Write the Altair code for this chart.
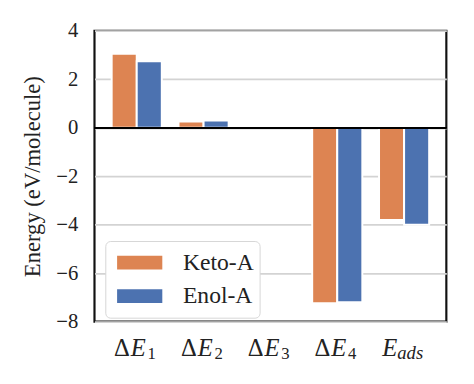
import altair as alt
import pandas as pd

categories = ["dE1", "dE2", "dE3", "dE4", "Eads"]
label_prefix = ["Δ", "Δ", "Δ", "Δ", ""]
label_main = ["E", "E", "E", "E", "E"]
label_sub = ["1", "2", "3", "4", "ads"]

series = ["Keto-A", "Enol-A"]
keto = [3.05, 0.25, 0.0, -7.24, -3.81]
enol = [2.74, 0.30, 0.0, -7.20, -4.00]
colors = ["#DD8452", "#4C72B0"]
y_ticks = [-8, -6, -4, -2, 0, 2, 4]

FONT = "Liberation Serif"
W, H = 358, 296

rows = []
for i, c in enumerate(categories):
    rows.append({"category": c, "series": series[0], "value": keto[i]})
    rows.append({"category": c, "series": series[1], "value": enol[i]})
df = pd.DataFrame(rows)

lab_df = pd.DataFrame({"category": categories, "prefix": label_prefix,
                       "main": label_main, "sub": label_sub})

xenc = alt.X("category:N", sort=categories, axis=None,
             scale=alt.Scale(paddingInner=0.25, paddingOuter=0.257))

bars = alt.Chart(df).mark_bar(stroke="white", strokeWidth=2).encode(
    x=xenc,
    xOffset=alt.XOffset("series:N", sort=series, scale=alt.Scale(paddingInner=0, paddingOuter=0)),
    y=alt.Y("value:Q",
            scale=alt.Scale(domain=[-8, 4], nice=False),
            axis=alt.Axis(values=y_ticks, title="Energy (eV/molecule)",
                          labelExpr="replace(datum.label, '-', '\u2212')",
                          labelFont=FONT, labelFontSize=21, labelColor="#222222",
                          titleFont=FONT, titleFontSize=23, titleFontWeight="normal",
                          titleColor="#222222",
                          ticks=False, domain=False, labelPadding=17,
                          titlePadding=12,
                          grid=True, gridColor="#d3d3d3", gridWidth=1.8)),
    color=alt.Color("series:N", sort=series,
                    scale=alt.Scale(domain=series, range=colors),
                    legend=alt.Legend(title=None, orient="none", legendX=11, legendY=214,
                                      fillColor="white", strokeColor="#d6d6d6",
                                      cornerRadius=5, padding=6, clipHeight=32,
                                      symbolType="M-0.769,-0.269H1V0.269H-0.769Z",
                                      symbolSize=2704, symbolStrokeWidth=0,
                                      symbolOpacity=1, labelOffset=21,
                                      labelFont=FONT, labelFontSize=24,
                                      labelColor="#222222")),
)

zero = alt.Chart(df).mark_rule(color="black", strokeWidth=1.6).encode(y=alt.datum(0))

lab_base = alt.Chart(lab_df).encode(x=xenc)
delta_lbl = lab_base.transform_filter("datum.prefix != ''").mark_text(
    align="right", baseline="alphabetic", dx=-7, font=FONT, fontSize=25, color="#222222"
).encode(y=alt.value(H + 35), text="prefix:N")
e_lbl = lab_base.transform_filter("datum.prefix != ''").mark_text(
    align="left", baseline="alphabetic", dx=-6, font=FONT, fontSize=25,
    fontStyle="italic", color="#222222"
).encode(y=alt.value(H + 35), text="main:N")
sub_lbl = lab_base.transform_filter("datum.prefix != ''").mark_text(
    align="left", baseline="alphabetic", dx=11, font=FONT, fontSize=17, color="#222222"
).encode(y=alt.value(H + 38), text="sub:N")
e2_lbl = lab_base.transform_filter("datum.prefix == ''").mark_text(
    align="right", baseline="alphabetic", dx=-7, font=FONT, fontSize=25,
    fontStyle="italic", color="#222222"
).encode(y=alt.value(H + 35), text="main:N")
sub2_lbl = lab_base.transform_filter("datum.prefix == ''").mark_text(
    align="left", baseline="alphabetic", dx=-7, font=FONT, fontSize=19,
    fontStyle="italic", color="#222222"
).encode(y=alt.value(H + 38), text="sub:N")

chart = alt.layer(bars, zero, delta_lbl, e_lbl, sub_lbl, e2_lbl, sub2_lbl).properties(
    width=W, height=H, autosize="none",
    padding={"left": 88, "top": 20, "right": 20, "bottom": 40},
    background="white",
).configure(font=FONT).configure_view(
    stroke="#111111", strokeWidth=2.2
)

chart.save("out.html", embed_options={"renderer": "svg", "actions": False})
